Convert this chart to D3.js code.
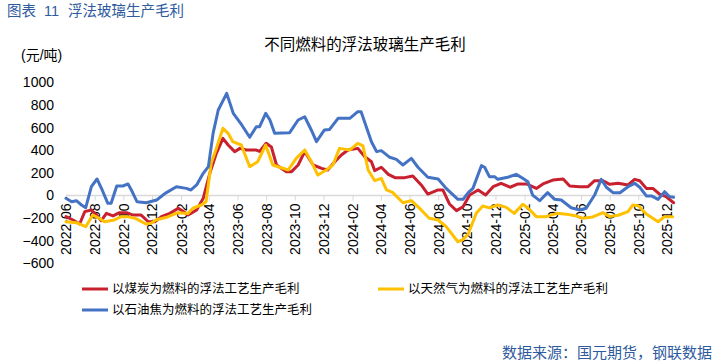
<!DOCTYPE html>
<html><head><meta charset="utf-8">
<script src="https://cdn.jsdelivr.net/npm/d3@7"></script>
<style>
html,body{margin:0;padding:0;background:#fff;}
svg{display:block;font-family:"Liberation Sans",Arial,"Noto Sans CJK SC",sans-serif;}
</style></head><body>
<svg id="c" width="721" height="364"></svg>
<script>
const seriesNames = ["以煤炭为燃料的浮法工艺生产毛利","以天然气为燃料的浮法工艺生产毛利","以石油焦为燃料的浮法工艺生产毛利"];
const seriesColors = ["#C8202F","#FFC000","#4472C4"];
const yTicks = [-600,-400,-200,0,200,400,600,800,1000];
const xTickLabels = ["2022-06","2022-08","2022-10","2022-12","2023-02","2023-04","2023-06","2023-08","2023-10","2023-12","2024-02","2024-04","2024-06","2024-08","2024-10","2024-12","2025-02","2025-04","2025-06","2025-08","2025-10","2025-12"];

const coalDates = ["2022-06-01","2022-06-16","2022-06-30","2022-07-11","2022-07-25","2022-08-05","2022-08-15","2022-08-26","2022-09-09","2022-09-23","2022-10-08","2022-10-22","2022-11-08","2022-11-23","2022-12-07","2022-12-21","2023-01-08","2023-01-26","2023-02-05","2023-02-16","2023-03-06","2023-03-20","2023-04-03","2023-04-17","2023-05-01","2023-05-12","2023-05-26","2023-06-06","2023-06-20","2023-07-11","2023-07-18","2023-08-01","2023-08-12","2023-08-23","2023-09-13","2023-09-24","2023-10-08","2023-10-22","2023-11-09","2023-11-27","2023-12-10","2023-12-25","2024-01-08","2024-01-22","2024-02-12","2024-02-27","2024-03-12","2024-03-19","2024-04-02","2024-04-17","2024-05-01","2024-05-22","2024-06-08","2024-06-26","2024-07-10","2024-08-01","2024-08-11","2024-08-25","2024-09-09","2024-09-23","2024-10-07","2024-10-25","2024-11-10","2024-11-26","2024-12-13","2025-01-01","2025-01-18","2025-02-05","2025-02-26","2025-03-12","2025-04-02","2025-04-24","2025-05-08","2025-05-29","2025-06-16","2025-06-30","2025-07-18","2025-08-01","2025-08-19","2025-09-09","2025-09-23","2025-10-04","2025-10-18","2025-11-01","2025-11-15","2025-11-29","2025-12-15"];
const coalValues = [-187,-217,-252,-143,-128,-173,-223,-158,-181,-152,-152,-173,-173,-232,-232,-187,-158,-113,-140,-173,-128,-25,196,373,506,447,388,417,402,402,390,462,430,270,211,211,270,388,270,240,226,299,358,403,417,343,299,220,250,187,158,158,173,93,13,49,49,-75,-134,-99,4,49,4,78,108,73,102,102,63,102,137,146,84,78,78,131,131,99,108,93,143,130,63,63,13,-10,-64];

const gasDates = ["2022-06-01","2022-06-23","2022-07-13","2022-07-28","2022-08-12","2022-08-22","2022-09-12","2022-09-26","2022-10-10","2022-10-28","2022-11-18","2022-11-29","2022-12-09","2023-01-01","2023-01-25","2023-02-15","2023-02-26","2023-03-16","2023-03-26","2023-04-06","2023-04-17","2023-05-01","2023-05-12","2023-05-22","2023-06-09","2023-06-27","2023-07-14","2023-07-31","2023-08-15","2023-09-17","2023-10-04","2023-10-22","2023-11-05","2023-11-19","2023-12-07","2023-12-21","2024-01-04","2024-01-26","2024-02-12","2024-02-23","2024-03-05","2024-03-19","2024-04-02","2024-04-13","2024-04-26","2024-05-18","2024-06-05","2024-06-26","2024-07-13","2024-08-01","2024-08-18","2024-09-12","2024-09-23","2024-10-04","2024-10-21","2024-11-04","2024-11-18","2024-12-06","2024-12-24","2025-01-10","2025-01-28","2025-02-08","2025-02-26","2025-03-19","2025-04-10","2025-05-01","2025-05-22","2025-06-05","2025-06-26","2025-07-18","2025-08-01","2025-08-19","2025-09-09","2025-09-19","2025-10-01","2025-10-18","2025-11-12","2025-11-26","2025-12-13"];
const gasValues = [-232,-241,-276,-173,-205,-232,-217,-187,-187,-205,-252,-245,-217,-193,-152,-160,-113,-84,-55,285,417,595,550,476,447,255,299,447,270,226,329,403,300,181,226,270,417,403,462,440,226,131,152,49,28,-64,-46,-128,-202,-217,-276,-409,-390,-341,-158,-93,-110,-84,-105,-158,-78,-110,-187,-187,-158,-165,-181,-202,-190,-152,-187,-175,-143,-84,-90,-164,-232,-187,-187];

const cokeDates = ["2022-06-01","2022-06-13","2022-06-23","2022-07-04","2022-07-13","2022-07-25","2022-08-06","2022-08-17","2022-08-29","2022-09-05","2022-09-17","2022-09-30","2022-10-11","2022-10-18","2022-10-30","2022-11-19","2022-12-11","2022-12-29","2023-01-22","2023-02-12","2023-02-22","2023-03-06","2023-03-20","2023-03-31","2023-04-10","2023-04-21","2023-05-09","2023-05-23","2023-06-10","2023-06-27","2023-07-11","2023-07-18","2023-07-31","2023-08-09","2023-08-19","2023-09-20","2023-10-08","2023-10-22","2023-11-05","2023-11-16","2023-12-03","2023-12-14","2024-01-01","2024-01-26","2024-02-12","2024-02-19","2024-03-12","2024-03-23","2024-04-02","2024-04-20","2024-05-04","2024-05-18","2024-06-05","2024-06-19","2024-07-10","2024-08-01","2024-08-18","2024-09-12","2024-09-23","2024-10-04","2024-10-14","2024-11-01","2024-11-08","2024-11-18","2024-11-29","2024-12-06","2024-12-27","2025-01-14","2025-01-28","2025-02-08","2025-02-18","2025-03-05","2025-03-22","2025-04-06","2025-04-20","2025-05-11","2025-05-29","2025-06-12","2025-06-30","2025-07-14","2025-07-25","2025-08-08","2025-08-23","2025-09-09","2025-09-23","2025-10-04","2025-10-18","2025-10-29","2025-11-12","2025-11-26","2025-12-06","2025-12-15"];
const cokeValues = [-25,-55,-46,-84,-108,78,146,49,-69,-69,84,84,102,49,-55,-64,-40,19,78,63,49,93,196,255,550,757,904,727,624,515,609,609,727,668,550,556,668,697,580,476,580,585,683,683,742,742,476,388,397,338,320,270,329,250,161,146,63,-34,-34,25,63,264,250,167,167,143,161,187,152,122,4,-46,25,-34,-40,-108,-128,-113,4,143,73,25,25,78,108,73,-4,-4,-34,34,-10,-16];

const headerParts = ["图表", "11", "浮法玻璃生产毛利"];

const parse = d3.timeParse("%Y-%m-%d");
const parseM = d3.timeParse("%Y-%m");
const svg = d3.select("#c");

const x = d3.scaleTime().domain([parse("2022-06-01"), parse("2025-12-01")]).range([66, 667]);
const y = d3.scaleLinear().domain([-600, 1000]).range([263.3, 82.5]);

// header
const headerX = [7, 44, 68];
headerParts.forEach((t, i) => {
  svg.append("text").attr("x", headerX[i]).attr("y", 16).attr("font-size", 14.5).attr("fill", "#2E5A9E")
    .attr("font-family", i === 1 ? "'Liberation Sans',Arial,sans-serif" : "'Noto Sans CJK SC',sans-serif")
    .text(t);
});
svg.append("text").attr("x", 365).attr("y", 50).attr("text-anchor", "middle").attr("font-size", 15.5).attr("fill", "#000")
  .attr("font-family", "'Noto Sans CJK SC',sans-serif").text("不同燃料的浮法玻璃生产毛利");
svg.append("text").attr("x", 21).attr("y", 60).attr("font-size", 14).attr("fill", "#000")
  .text("(元/吨)");

// y axis labels
const yAxis = d3.axisLeft(y).tickValues(yTicks).tickFormat(d3.format("d")).tickSize(0).tickPadding(0);
const gy = svg.append("g").attr("transform", "translate(54,0)").call(yAxis);
gy.select(".domain").remove();
gy.selectAll("text").attr("font-size", 14).attr("fill", "#000").attr("font-family", "'Liberation Sans',Arial,sans-serif");

// zero axis line
const lastDate = parse("2025-12-19");
svg.append("line").attr("x1", x(parse("2022-06-01"))).attr("x2", x(lastDate))
  .attr("y1", y(0)).attr("y2", y(0)).attr("stroke", "#D9D9D9").attr("stroke-width", 1.5);

// x axis
const xAxis = d3.axisBottom(x).tickValues(xTickLabels.map(parseM)).tickFormat(d3.timeFormat("%Y-%m")).tickSize(5).tickPadding(0);
const gx = svg.append("g").attr("transform", `translate(0,${y(0)})`).call(xAxis);
gx.select(".domain").remove();
gx.selectAll(".tick line").attr("stroke", "#D9D9D9").attr("stroke-width", 1);
gx.selectAll(".tick text").attr("font-size", 14).attr("fill", "#000")
  .attr("font-family", "'Liberation Sans',Arial,sans-serif")
  .attr("text-anchor", "end").attr("dy", "0.35em")
  .attr("transform", "translate(0,8) rotate(-90)").attr("y", 0).attr("x", 0);

// lines
const line = d3.line().x(d => x(d[0])).y(d => y(d[1]));
const series = [
  coalDates.map((d,i) => [parse(d), coalValues[i]]),
  gasDates.map((d,i) => [parse(d), gasValues[i]]),
  cokeDates.map((d,i) => [parse(d), cokeValues[i]])
];
series.forEach((s, i) => {
  svg.append("path").datum(s).attr("d", line).attr("fill", "none")
    .attr("stroke", seriesColors[i]).attr("stroke-width", 3).attr("stroke-linejoin", "round").attr("stroke-linecap", "round");
});

// legend
const legendPos = [[82, 289], [378, 289], [82, 310]];
seriesNames.forEach((n, i) => {
  const [lx, ly] = legendPos[i];
  svg.append("line").attr("x1", lx).attr("x2", lx + 26).attr("y1", ly).attr("y2", ly)
    .attr("stroke", seriesColors[i]).attr("stroke-width", 3);
  svg.append("text").attr("x", lx + 30).attr("y", ly).attr("dy", "0.35em").attr("font-size", 12.5)
    .attr("font-family", "'Noto Sans CJK SC',sans-serif").attr("fill", "#000").text(n);
});

// footer
svg.append("text").attr("x", 712).attr("y", 358).attr("text-anchor", "end").attr("font-size", 15)
  .attr("fill", "#2E5A9E").attr("font-family", "'Noto Sans CJK SC',sans-serif").text("数据来源：国元期货，钢联数据");
</script>
</body></html>
